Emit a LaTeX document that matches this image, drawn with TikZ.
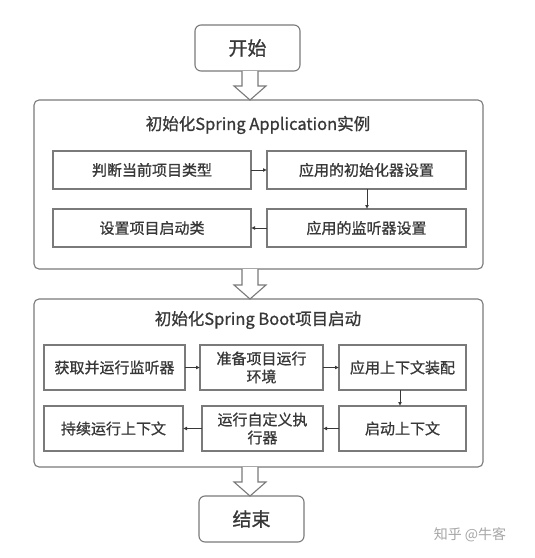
\documentclass[tikz,border=0pt]{standalone}
\usepackage{fontspec}
\setmainfont{Noto Sans CJK SC}[BoldFont=Noto Sans CJK SC,BoldFeatures={FakeBold=0.9}]
\usetikzlibrary{calc,arrows.meta}
\definecolor{ln}{HTML}{7A7A7A}
\definecolor{tx}{HTML}{383838}
\begin{document}
\begin{tikzpicture}[x=1pt,y=-1pt,
  every node/.style={inner sep=0pt,outer sep=0pt,text=tx},
  endbox/.style={draw=ln,line width=1.1pt,rounded corners=6pt,minimum width=105pt,minimum height=46pt,font=\fontsize{19}{22}\selectfont\bfseries},
  outerbox/.style={draw=ln,line width=1.1pt,rounded corners=5pt,minimum width=449pt},
  stepbox/.style={draw=ln,line width=1.1pt,minimum height=38pt,align=center,font=\fontsize{15}{18}\selectfont\bfseries},
  titletext/.style={font=\fontsize{16.5}{20}\selectfont\bfseries},
  small/.style={draw=tx,line width=0.9pt,-{Latex[length=4pt,width=4pt]}},
  blockarrow/.style={draw=ln,line width=1.1pt,fill=white,line join=miter}
]
\useasboundingbox (0,0) rectangle (535,558);
\fill[white] (0,0) rectangle (535,558);

\node[endbox] (start) at (247.5,48) {开始};
\node[outerbox,minimum height=169pt] (box1) at (258.5,184.5) {};
\node[titletext] (t1) at (258,125) {初始化Spring Application实例};
\node[stepbox,minimum width=198pt] (a1) at (152,170) {判断当前项目类型};
\node[stepbox,minimum width=199pt] (a2) at (366.5,170) {应用的初始化器设置};
\node[stepbox,minimum width=199pt] (a3) at (366.5,228) {应用的监听器设置};
\node[stepbox,minimum width=198pt] (a4) at (152,228) {设置项目启动类};

\node[outerbox,minimum height=168pt] (box2) at (258.5,383) {};
\node[titletext] (t2) at (258,320) {初始化Spring Boot项目启动};
\node[stepbox,minimum width=141pt,minimum height=45pt] (b1) at (114.5,367.5) {获取并运行监听器};
\node[stepbox,minimum width=123pt,minimum height=45pt] (b2) at (261.5,367.5) {准备项目运行\\环境};
\node[stepbox,minimum width=127pt,minimum height=45pt] (b3) at (402.5,367.5) {应用上下文装配};
\node[stepbox,minimum width=127pt,minimum height=45pt] (b6) at (402.5,428.5) {启动上下文};
\node[stepbox,minimum width=121pt,minimum height=45pt] (b5) at (262.5,428.5) {运行自定义执\\行器};
\node[stepbox,minimum width=139pt,minimum height=45pt] (b4) at (113.5,428.5) {持续运行上下文};

\node[endbox] (end) at (251.5,519) {结束};

% small arrows
\draw[small] (a1) -- (a2);
\draw[small] (a2.south -| 367,0) -- (a3.north -| 367,0);
\draw[small] (a3) -- (a4);
\draw[small] (b1) -- (b2);
\draw[small] (b2) -- (b3);
\draw[small] (b3.south -| 400,0) -- (b6.north -| 400,0);
\draw[small] (b6) -- (b5);
\draw[small] (b5) -- (b4);

% block arrows
\coordinate (c1) at (start.south -| 250,0);
\coordinate (c2) at (box1.north -| 250,0);
\coordinate (c3) at (box1.south -| 250,0);
\coordinate (c4) at (box2.north -| 250,0);
\coordinate (c5) at (box2.south -| 250,0);
\coordinate (c6) at (end.north -| 250,0);
\foreach \p/\q in {c1/c2,c3/c4,c5/c6}{
  \draw[blockarrow] ($(\p)+(-8pt,0pt)$) -- ($(\q)+(-8pt,14pt)$) -- ($(\q)+(-16pt,14pt)$) -- (\q)
     -- ($(\q)+(16pt,14pt)$) -- ($(\q)+(8pt,14pt)$) -- ($(\p)+(8pt,0pt)$);
}

\node[text=black!35,font=\fontsize{14}{16}\selectfont] (wm) at (470,535) {知乎 @牛客};
\end{tikzpicture}
\end{document}
